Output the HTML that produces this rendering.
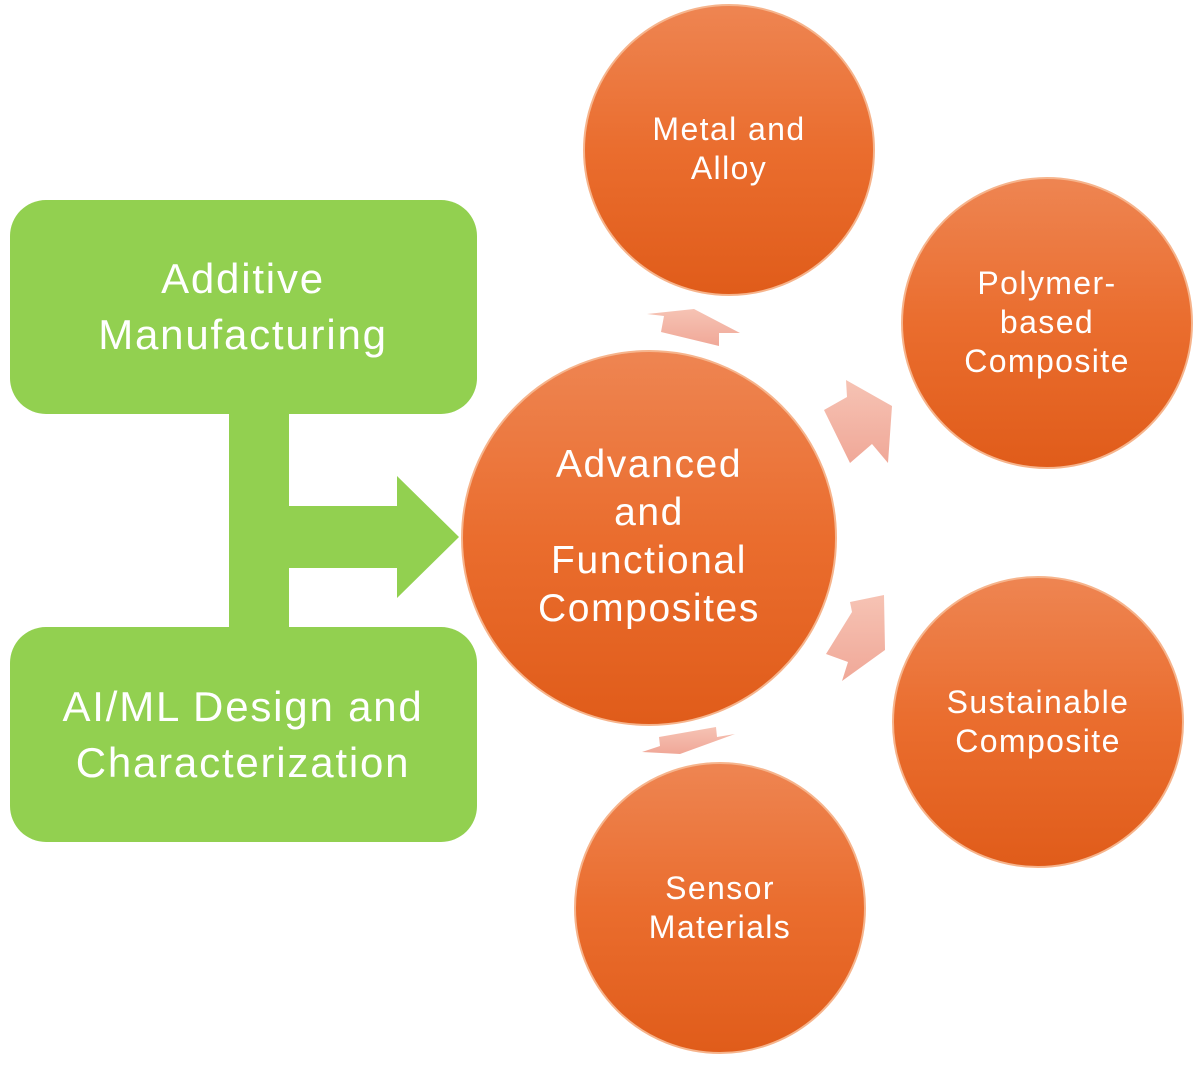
<!DOCTYPE html>
<html><head><meta charset="utf-8"><style>
html,body{margin:0;padding:0;background:#fff;}
body{width:1200px;height:1062px;overflow:hidden;}
text{font-family:"Liberation Sans","DejaVu Sans",sans-serif;fill:#fff;}
</style></head><body>
<svg width="1200" height="1062" viewBox="0 0 1200 1062" xmlns="http://www.w3.org/2000/svg">
<defs>
<linearGradient id="og" x1="0" y1="0" x2="0" y2="1">
<stop offset="0" stop-color="#ee8552"/>
<stop offset="0.5" stop-color="#ea6d2e"/>
<stop offset="1" stop-color="#e05c1a"/>
</linearGradient>
<linearGradient id="pk" x1="0" y1="0" x2="0" y2="1">
<stop offset="0" stop-color="#f6c3b4"/>
<stop offset="1" stop-color="#f0a898"/>
</linearGradient>
</defs>
<rect x="10" y="200" width="467" height="214" rx="36" fill="#92d050"/>
<rect x="10" y="627" width="467" height="215" rx="36" fill="#92d050"/>
<rect x="229" y="412" width="60" height="217" fill="#92d050"/>
<polygon points="287,506 397,506 397,476 459,537 397,598 397,568 287,568" fill="#92d050"/>
<g font-size="42" text-anchor="middle" letter-spacing="1.8">
<text x="243" y="293">Additive</text>
<text x="243" y="349">Manufacturing</text>
<text x="243" y="721">AI/ML Design and</text>
<text x="243" y="777">Characterization</text>
</g>
<polygon points="661,332 664,316 647,314 694,309 740,333 719,333 719,346" fill="url(#pk)"/>
<polygon points="824,410 847,397 846,380 892,406 888,463 872,444 850,463" fill="url(#pk)"/>
<polygon points="826,654 852,612 850,602 884,595 885,650 842,681 848,662" fill="url(#pk)"/>
<polygon points="659,737 716,727 717,737 735,734 680,754 642,752 660,746" fill="url(#pk)"/>
<g stroke="#f6b48c" stroke-width="2">
<circle cx="649" cy="538" r="187" fill="url(#og)"/>
<circle cx="729" cy="150" r="145" fill="url(#og)"/>
<circle cx="1047" cy="323" r="145" fill="url(#og)"/>
<circle cx="1038" cy="722" r="145" fill="url(#og)"/>
<circle cx="720" cy="908" r="145" fill="url(#og)"/>
</g>
<g font-size="39" text-anchor="middle" letter-spacing="1.6">
<text x="649" y="477">Advanced</text>
<text x="649" y="525">and</text>
<text x="649" y="573">Functional</text>
<text x="649" y="621">Composites</text>
</g>
<g font-size="32" text-anchor="middle" letter-spacing="1.4">
<text x="729" y="140">Metal and</text>
<text x="729" y="179">Alloy</text>
<text x="1047" y="294">Polymer-</text>
<text x="1047" y="333">based</text>
<text x="1047" y="372">Composite</text>
<text x="1038" y="713">Sustainable</text>
<text x="1038" y="752">Composite</text>
<text x="720" y="899">Sensor</text>
<text x="720" y="938">Materials</text>
</g>
</svg>
</body></html>
